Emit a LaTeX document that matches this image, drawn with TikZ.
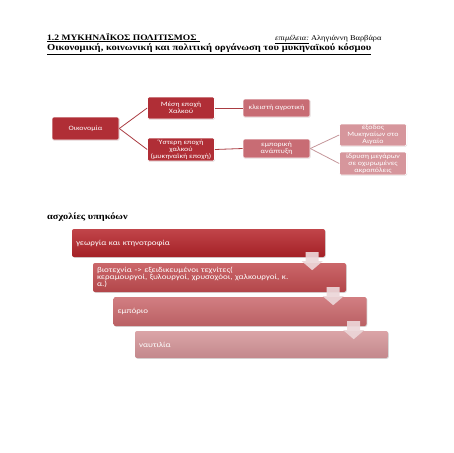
\documentclass[tikz,border=0pt]{standalone}
\usepackage{fontspec}
\setmainfont{Liberation Serif}[FakeStretch=1.15]
\newfontfamily\boxfont{Carlito}[FakeStretch=1.2]
\usetikzlibrary{positioning,calc,shadows}

\definecolor{darkRed}{RGB}{176,46,54}
\definecolor{midRed}{RGB}{200,108,116}
\definecolor{lightRed}{RGB}{214,150,156}
\definecolor{lineRed}{RGB}{170,60,66}
\definecolor{lineRose}{RGB}{196,150,154}
\definecolor{stepA}{RGB}{182,36,42}
\definecolor{stepB}{RGB}{194,76,80}
\definecolor{stepC}{RGB}{202,104,108}
\definecolor{stepD}{RGB}{212,148,152}
\definecolor{arrowRose}{RGB}{236,214,216}

\tikzset{
  treebox/.style={draw=white, line width=0.6pt, rounded corners=1.5pt, text=white,
    font=\boxfont\fontsize{6.6}{7}\selectfont, align=center, inner sep=1pt,
    minimum width=67pt, drop shadow={opacity=0.25, shadow xshift=0.7pt, shadow yshift=-0.7pt}},
  flowbox/.style={rounded corners=2pt, text=white, font=\boxfont\fontsize{7.5}{6.8}\selectfont,
    align=left, text width=245pt, inner xsep=4pt, minimum height=28pt,
    drop shadow={opacity=0.3, shadow xshift=0.8pt, shadow yshift=-0.8pt}}
}

\begin{document}
\begin{tikzpicture}[x=1pt,y=-1pt]
    \useasboundingbox (0,0) rectangle (453,453);

    % Header
    \node[anchor=base west, inner sep=0pt, font=\bfseries\fontsize{8.3}{9}\selectfont] (chapter) at (47,40) {\underline{1.2 ΜΥΚΗΝΑΪΚΟΣ ΠΟΛΙΤΙΣΜΟΣ\hspace{3pt}}};
    \node[anchor=base west, inner sep=0pt, font=\fontsize{7.3}{8}\selectfont] (author) at (275,40) {\underline{\textit{επιμέλεια:}} Αληγιάννη Βαρβάρα};
    \node[anchor=base west, inner sep=0pt, font=\bfseries\fontsize{9.2}{10}\selectfont] (subject) at (47,50.5) {\underline{Οικονομική, κοινωνική και πολιτική οργάνωση του μυκηναϊκού κόσμου}};

    % Economy tree
    \node[treebox, fill=darkRed, minimum height=23pt] (economy) at (85.5,128.5) {Οικονομία};
    \node[treebox, fill=darkRed, minimum height=22pt] (middle) at (181,108) {Μέση εποχή\\Χαλκού};
    \node[treebox, fill=darkRed, minimum height=23pt] (late) at (181,149.5) {Ύστερη εποχή\\χαλκού\\(μυκηναϊκή εποχή)};
    \node[treebox, fill=midRed, minimum height=18pt] (closed) at (276.5,108) {κλειστή αγροτική};
    \node[treebox, fill=midRed, minimum height=19pt] (trade) at (276.5,148.5) {εμπορική\\ανάπτυξη};
    \node[treebox, fill=lightRed, minimum height=22pt] (exodus) at (373,135) {έξοδος\\Μυκηναίων στο\\Αιγαίο};
    \node[treebox, fill=lightRed, minimum height=23pt] (palaces) at (373,163.5) {ίδρυση μεγάρων\\σε οχυρωμένες\\ακροπόλεις};

    % Tree links
    \draw[lineRed, line width=0.8pt] (economy.east) -- (middle.west);
    \draw[lineRed, line width=0.8pt] (economy.east) -- (late.west);
    \draw[lineRed, line width=0.8pt] (middle.east) -- (closed.west);
    \draw[lineRed, line width=0.8pt] (late.east) -- (trade.west);
    \draw[lineRose, line width=0.8pt] (trade.east) -- (exodus.west);
    \draw[lineRose, line width=0.8pt] (trade.east) -- (palaces.west);

    % Occupations
    \node[anchor=base west, inner sep=0pt, font=\bfseries\fontsize{9}{10}\selectfont] (subjects) at (47,219) {ασχολίες υπηκόων};

    \node[flowbox, top color=stepA!85!white, bottom color=stepA!90!black] (farming) at (198.5,243) {γεωργία και κτηνοτροφία};
    \node[flowbox, top color=stepB!85!white, bottom color=stepB!92!black, minimum height=29pt] (crafts) at (219.5,277.5) {βιοτεχνία -> εξειδικευμένοι τεχνίτες(\\κεραμουργοί, ξυλουργοί, χρυσοχόοι, χαλκουργοί, κ.\\α.)};
    \node[flowbox, top color=stepC!85!white, bottom color=stepC!92!black, minimum height=29pt] (commerce) at (240,311.5) {εμπόριο};
    \node[flowbox, top color=stepD!85!white, bottom color=stepD!92!black, minimum height=27pt] (shipping) at (261.5,344.5) {ναυτιλία};

    % Step arrows
    \foreach \a in {farming, crafts, commerce} {
        \coordinate (tip-\a) at ($(\a.south east)+(-13,13)$);
        \fill[arrowRose, opacity=0.92] (tip-\a) -- ++(10.5,-9) -- ++(-4,0) -- ++(0,-9) -- ++(-13,0) -- ++(0,9) -- ++(-4,0) -- cycle;
    }
\end{tikzpicture}
\end{document}
